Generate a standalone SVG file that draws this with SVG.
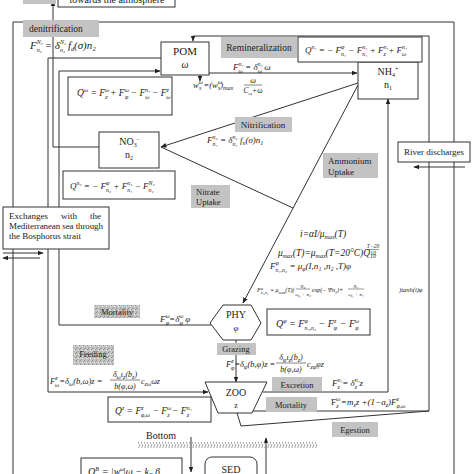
<svg xmlns="http://www.w3.org/2000/svg" width="474" height="474" viewBox="0 0 474 474">
<style>
.ln{fill:none;stroke:#333;stroke-width:1}
.bx{fill:#fff;stroke:#333;stroke-width:1}
.lb{fill:#c3c3c3}
.tx{fill:url(#tex)}
.t{font-family:"Liberation Serif",serif;fill:#222}
.eq{font-family:"Liberation Serif",serif;font-style:italic;fill:#222}
.s{font-size:6px}
.m{text-anchor:middle}
</style>
<defs>
<marker id="ah" viewBox="0 0 10 10" refX="9" refY="5" markerWidth="6" markerHeight="6" orient="auto"><path d="M0,1 L10,5 L0,9 z" fill="#222"/></marker>
<pattern id="tex" width="4" height="4" patternUnits="userSpaceOnUse"><rect width="4" height="4" fill="#c4c4c4"/><rect x="0" y="0" width="1" height="1" fill="#8a8a8a"/><rect x="2" y="2" width="1" height="1" fill="#e8e8e8"/><rect x="3" y="1" width="1" height="1" fill="#9a9a9a"/><rect x="1" y="3" width="1" height="1" fill="#a8a8a8"/></pattern>
<pattern id="hatch" width="3" height="6" patternUnits="userSpaceOnUse"><path d="M0,6 L2,0" stroke="#8a8a8a" stroke-width="0.8"/></pattern>
</defs>
<rect width="474" height="474" fill="#fff"/>

<g id="connectors">
<path class="ln" d="M13,474 V22 H454 V474"/>
<path class="ln" d="M99,147 H53 V1" marker-end="url(#ah)"/>
<path class="ln" d="M161,58 H48 V392 H208" marker-end="url(#ah)"/>
<path class="ln" d="M211,325 H59 V71 H160" marker-end="url(#ah)"/>
<path class="ln" d="M209,73 H357" marker-end="url(#ah)"/>
<path class="ln" d="M200,67 V81" stroke-width="1.6" marker-end="url(#ah)"/>
<path class="ln" d="M253,411 H429 V36 H193 V41" marker-end="url(#ah)"/>
<path class="ln" d="M237,413 L241,426 L429,411"/>
<path class="ln" d="M263,392 H388 V99" marker-end="url(#ah)"/>
<path class="ln" d="M358,83 L161,147" marker-end="url(#ah)"/>
<path class="ln" d="M358,85 L243,303" marker-end="url(#ah)"/>
<path class="ln" d="M161,147 L293,208"/>
<path class="ln" d="M236,340 V382" marker-end="url(#ah)"/>
<path class="ln" d="M3,253 H43" marker-end="url(#ah)"/>
<path class="ln" d="M40,258 H3" marker-end="url(#ah)"/>
<path class="ln" d="M465,167 H414" marker-end="url(#ah)"/>
<path class="ln" d="M191,437 V472" marker-end="url(#ah)"/>
<path class="ln" d="M266,474 V438" marker-end="url(#ah)"/>
</g>

<g id="bottom-line">
<rect x="138" y="442" width="180" height="6" fill="url(#hatch)"/>
<text class="t m" x="161" y="439" font-size="10">Bottom</text>
</g>

<g id="atmosphere">
<rect class="bx" x="58" y="-6" width="117" height="13"/>
<text class="t m" x="117" y="3" font-size="10">towards the atmosphere</text>
<rect class="lb" x="23" y="0" width="33" height="4"/>
</g>

<g id="labels">
<rect class="lb" x="23" y="20" width="76" height="17"/>
<text class="t" x="29" y="32" font-size="9.5">denitrification</text>
<rect class="lb" x="221" y="37" width="76" height="21"/>
<text class="t m" x="259" y="51" font-size="9.5">Remineralization</text>
<rect class="lb" x="235" y="117" width="57" height="15"/>
<text class="t m" x="263" y="128" font-size="9">Nitrification</text>
<rect class="lb" x="323" y="153" width="55" height="25"/>
<text class="t" x="328" y="164" font-size="9">Ammonium</text>
<text class="t" x="328" y="175" font-size="9">Uptake</text>
<rect class="lb" x="191" y="185" width="39" height="23"/>
<text class="t" x="196" y="195" font-size="8.5">Nitrate</text>
<text class="t" x="196" y="205" font-size="8.5">Uptake</text>
<rect class="tx" x="94" y="305" width="46" height="13"/>
<text class="t m" x="117" y="315" font-size="8.5">Mortality</text>
<rect class="tx" x="73" y="345" width="41" height="20"/>
<text class="t m" x="93" y="357" font-size="8.5">Feeding</text>
<rect class="lb" x="217" y="343" width="39" height="12"/>
<text class="t m" x="236" y="352" font-size="8.5">Grazing</text>
<rect class="lb" x="272" y="377" width="50" height="14"/>
<text class="t m" x="297" y="388" font-size="8.5">Excretion</text>
<rect class="lb" x="266" y="397" width="51" height="15"/>
<text class="t m" x="291" y="408" font-size="8.5">Mortality</text>
<rect class="lb" x="332" y="422" width="46" height="15"/>
<text class="t m" x="355" y="433" font-size="8.5">Egestion</text>
</g>

<g id="exchanges">
<rect class="bx" x="3" y="207" width="106" height="42"/>
<text class="t" x="9" y="219" font-size="9">Exchanges</text>
<text class="t" x="61" y="219" font-size="9">with</text>
<text class="t" x="90" y="219" font-size="9">the</text>
<text class="t" x="9" y="229" font-size="9" textLength="94" lengthAdjust="spacing">Mediterranean sea through</text>
<text class="t" x="9" y="239" font-size="9">the Bosphorus strait</text>
</g>

<g id="river">
<rect class="bx" x="398" y="142" width="72" height="20"/>
<text class="t m" x="434" y="155" font-size="9">River discharges</text>
</g>

<g id="POM">
<rect class="bx" x="161" y="42" width="48" height="33"/>
<text class="t m" x="185" y="55" font-size="11">POM</text>
<text class="eq m" x="185" y="68" font-size="10">ω</text>
</g>

<g id="NH4">
<rect class="bx" x="358" y="62" width="60" height="37"/>
<text class="t m" x="388" y="75" font-size="10">NH<tspan class="s" dy="2">4</tspan><tspan class="s" dy="-6">+</tspan></text>
<text class="t m" x="388" y="88" font-size="10">n<tspan class="s" dy="2">1</tspan></text>
</g>

<g id="NO3">
<rect class="bx" x="99" y="132" width="60" height="36"/>
<text class="t m" x="129" y="145" font-size="10">NO<tspan class="s" dy="2">3</tspan><tspan class="s" dy="-6">-</tspan></text>
<text class="t m" x="129" y="158" font-size="10">n<tspan class="s" dy="2">2</tspan></text>
</g>

<g id="PHY">
<polygon class="bx" points="210,323 223,305 251,305 261,323 251,340 223,340"/>
<text class="t m" x="236" y="318" font-size="10">PHY</text>
<text class="eq m" x="236" y="331" font-size="9">φ</text>
</g>

<g id="ZOO">
<polygon class="bx" points="205,382 267,382 252,413 218,413"/>
<text class="t m" x="236" y="396" font-size="10">ZOO</text>
<text class="t m" x="236" y="408" font-size="8">z</text>
</g>

<g id="SED">
<rect class="bx" x="205" y="457" width="52" height="30" rx="7"/>
<text class="t m" x="231" y="473" font-size="10">SED</text>
</g>

<g id="equation-boxes">
<rect class="bx" x="68" y="77" width="104" height="38"/>
<rect class="bx" x="298" y="37" width="124" height="25"/>
<rect class="bx" x="63" y="171" width="112" height="28"/>
<rect class="bx" x="267" y="309" width="103" height="26"/>
<rect class="bx" x="108" y="397" width="103" height="25"/>
<rect class="bx" x="81" y="458" width="101" height="30"/>
</g>

<g id="equations">
<text class="eq" x="30" y="49" font-size="11">F<tspan class="s" dy="-5">N₂</tspan><tspan class="s" dx="-6" dy="8">n₂</tspan><tspan dy="-3"> = δ</tspan><tspan class="s" dy="-5">N₂</tspan><tspan class="s" dx="-6" dy="8">n₂</tspan><tspan dy="-3"> f</tspan><tspan class="s" dy="2">d</tspan><tspan dy="-2">(σ)n₂</tspan></text>

<text class="eq" x="77" y="96" font-size="9.5">Q<tspan class="s" dy="-4">ω</tspan><tspan dy="4"> = F</tspan><tspan class="s" dy="-4">ω</tspan><tspan class="s" dx="-4" dy="6.5">z</tspan><tspan dy="-2.5"> + F</tspan><tspan class="s" dy="-4">ω</tspan><tspan class="s" dx="-4" dy="6.5">φ</tspan><tspan dy="-2.5"> − F</tspan><tspan class="s" dy="-4">n₁</tspan><tspan class="s" dx="-5" dy="6.5">ω</tspan><tspan dy="-2.5"> − F</tspan><tspan class="s" dy="-4">z</tspan><tspan class="s" dx="-2.5" dy="6.5">ω</tspan></text>

<text class="eq" x="233" y="70" font-size="9">F<tspan class="s" dy="-4">n₁</tspan><tspan class="s" dx="-5" dy="6.5">ω</tspan><tspan dy="-2.5"> = δ</tspan><tspan class="s" dy="-4">n₁</tspan><tspan class="s" dx="-5" dy="6.5">ω</tspan><tspan dy="-2.5"> ω</tspan></text>

<text class="eq" x="193" y="88" font-size="8.5">w<tspan class="s" dy="-4">ω</tspan><tspan class="s" dx="-4" dy="6">s</tspan><tspan dy="-2"> =(w</tspan><tspan class="s" dy="-4">ω</tspan><tspan class="s" dx="-4" dy="6">s</tspan><tspan dy="-2">)</tspan><tspan class="s" dy="2">max</tspan></text>
<text class="eq m" x="253" y="83" font-size="8">ω</text>
<line x1="244" y1="85" x2="262" y2="85" stroke="#333" stroke-width="0.6"/>
<text class="eq m" x="253" y="93" font-size="7.5">C<tspan font-size="5" dy="1.5">ω</tspan><tspan dy="-1.5">+ω</tspan></text>

<text class="eq" x="305" y="53" font-size="9">Q<tspan class="s" dy="-4">n₁</tspan><tspan dy="4"> = − F</tspan><tspan class="s" dy="-4">φ</tspan><tspan class="s" dx="-3.3" dy="6.5">n₁</tspan><tspan dy="-2.5"> − F</tspan><tspan class="s" dy="-4">n₁</tspan><tspan class="s" dx="-5" dy="6.5">n₁</tspan><tspan dy="-2.5"> + F</tspan><tspan class="s" dy="-4">n₁</tspan><tspan class="s" dx="-5" dy="6.5">z</tspan><tspan dy="-2.5">  + F</tspan><tspan class="s" dy="-4">n₁</tspan><tspan class="s" dx="-5" dy="6.5">ω</tspan></text>

<text class="eq" x="70" y="189" font-size="9">Q<tspan class="s" dy="-4">n₂</tspan><tspan dy="4"> = − F</tspan><tspan class="s" dy="-4">φ</tspan><tspan class="s" dx="-3.3" dy="6.5">n₂</tspan><tspan dy="-2.5"> + F</tspan><tspan class="s" dy="-4">n₂</tspan><tspan class="s" dx="-5" dy="6.5">n₁</tspan><tspan dy="-2.5"> − F</tspan><tspan class="s" dy="-4">N₂</tspan><tspan class="s" dx="-6" dy="6.5">n₂</tspan></text>

<text class="eq" x="207" y="143" font-size="9">F<tspan class="s" dy="-4">n₂</tspan><tspan class="s" dx="-5" dy="6.5">n₁</tspan><tspan dy="-2.5"> = δ</tspan><tspan class="s" dy="-4">n₂</tspan><tspan class="s" dx="-5" dy="6.5">n₁</tspan><tspan dy="-2.5"> f</tspan><tspan class="s" dy="2">n</tspan><tspan dy="-2">(σ)n</tspan><tspan class="s" dy="2">1</tspan></text>

<text class="eq" x="300" y="237" font-size="9.5">i=αI/μ<tspan class="s" dy="2">max</tspan><tspan dy="-2">(T)</tspan></text>
<text class="eq" x="278" y="256" font-size="9.5">μ<tspan class="s" dy="2">max</tspan><tspan dy="-2">(T)=μ</tspan><tspan class="s" dy="2">max</tspan><tspan dy="-2">(T=20°C)Q</tspan><tspan class="s" dy="2">10</tspan></text>
<text class="eq m" x="373" y="248" font-size="5.5">T−20</text>
<line x1="367" y1="249.5" x2="379" y2="249.5" stroke="#333" stroke-width="0.5"/>
<text class="eq m" x="373" y="254.5" font-size="5.5">10</text>

<text class="eq" x="270" y="269" font-size="9">F<tspan class="s" dy="-4">φ</tspan><tspan class="s" dx="-3.3" dy="6.5">n₁,n₂</tspan><tspan dy="-2.5"> = μ</tspan><tspan class="s" dy="2">φ</tspan><tspan dy="-2">(I,n₁ ,n₂ ,T)φ</tspan></text>

<text class="eq" x="257" y="292" font-size="6">F<tspan font-size="4" dy="-2.5">φ</tspan><tspan font-size="4" dx="-2.2" dy="4.5">n₁,n₂</tspan><tspan dy="-2"> = μ</tspan><tspan font-size="4" dy="1.5">max</tspan><tspan dy="-1.5">(T)(</tspan></text>
<text class="eq m" x="303" y="287.5" font-size="5.5">n₂</text>
<line x1="296" y1="289" x2="310" y2="289" stroke="#333" stroke-width="0.5"/>
<text class="eq m" x="303" y="295.5" font-size="5">c<tspan font-size="3.5" dy="1">n₂</tspan><tspan dy="-1"> + n₂</tspan></text>
<text class="eq" x="312" y="292" font-size="6">exp(− Ψn<tspan font-size="4" dy="1.5">1</tspan><tspan dy="-1.5">)+</tspan></text>
<text class="eq m" x="356" y="287.5" font-size="5.5">n₁</text>
<line x1="348" y1="289" x2="364" y2="289" stroke="#333" stroke-width="0.5"/>
<text class="eq m" x="356" y="295.5" font-size="5">c<tspan font-size="3.5" dy="1">n₁</tspan><tspan dy="-1"> + n₁</tspan></text>
<text class="eq" x="399" y="292" font-size="6.5">)tanh(i)φ</text>

<text class="eq" x="276" y="327" font-size="10">Q<tspan class="s" dy="-4">φ</tspan><tspan dy="4"> = F</tspan><tspan class="s" dy="-4">φ</tspan><tspan class="s" dx="-3.3" dy="6.5">n₁,n₂</tspan><tspan dy="-2.5"> − F</tspan><tspan class="s" dy="-4">z</tspan><tspan class="s" dx="-2.5" dy="6.5">φ</tspan><tspan dy="-2.5"> − F</tspan><tspan class="s" dy="-4">ω</tspan><tspan class="s" dx="-4" dy="6.5">φ</tspan></text>

<text class="eq" x="160" y="322" font-size="9">F<tspan class="s" dy="-4">ω</tspan><tspan class="s" dx="-4" dy="6.5">φ</tspan><tspan dy="-2.5">=δ</tspan><tspan class="s" dy="-4">ω</tspan><tspan class="s" dx="-4" dy="6.5">φ</tspan><tspan dy="-2.5"> φ</tspan></text>

<text class="eq" x="226" y="367" font-size="8.5">F<tspan class="s" dy="-4">z</tspan><tspan class="s" dx="-2.5" dy="6.5">φ</tspan><tspan dy="-2.5">=δ</tspan><tspan class="s" dy="2">φ</tspan><tspan dy="-2">(b,φ)z =</tspan></text>
<text class="eq m" x="291" y="360" font-size="8">δ<tspan class="s" dy="2">φ</tspan><tspan dy="-2">ι</tspan><tspan class="s" dy="2">z</tspan><tspan dy="-2">(b</tspan><tspan class="s" dy="2">z</tspan><tspan dy="-2">)</tspan></text>
<line x1="276" y1="363" x2="306" y2="363" stroke="#333" stroke-width="0.6"/>
<text class="eq m" x="291" y="372" font-size="8">b(φ,ω)</text>
<text class="eq" x="307" y="367" font-size="8">c<tspan class="s" dy="2">zφ</tspan><tspan dy="-2">φz</tspan></text>

<text class="eq" x="50" y="384" font-size="8.5">F<tspan class="s" dy="-4">z</tspan><tspan class="s" dx="-2.5" dy="6.5">ω</tspan><tspan dy="-2.5">=δ</tspan><tspan class="s" dy="2">ω</tspan><tspan dy="-2">(b,ω)z =</tspan></text>
<text class="eq m" x="125" y="377" font-size="8">δ<tspan class="s" dy="2">ω</tspan><tspan dy="-2">ι</tspan><tspan class="s" dy="2">z</tspan><tspan dy="-2">(b</tspan><tspan class="s" dy="2">z</tspan><tspan dy="-2">)</tspan></text>
<line x1="110" y1="380" x2="140" y2="380" stroke="#333" stroke-width="0.6"/>
<text class="eq m" x="125" y="389" font-size="8">b(φ,ω)</text>
<text class="eq" x="141" y="384" font-size="8">c<tspan class="s" dy="2">zω</tspan><tspan dy="-2">ωz</tspan></text>

<text class="eq" x="115" y="414" font-size="9.5">Q<tspan class="s" dy="-4">z</tspan><tspan dy="4"> = F</tspan><tspan class="s" dy="-4">z</tspan><tspan class="s" dx="-2.5" dy="6.5">φ,ω</tspan><tspan dy="-2.5"> − F</tspan><tspan class="s" dy="-4">ω</tspan><tspan class="s" dx="-4" dy="6.5">z</tspan><tspan dy="-2.5"> − F</tspan><tspan class="s" dy="-4">n₁</tspan><tspan class="s" dx="-5" dy="6.5">z</tspan></text>

<text class="eq" x="332" y="386" font-size="9">F<tspan class="s" dy="-4">n₁</tspan><tspan class="s" dx="-5" dy="6.5">z</tspan><tspan dy="-2.5">  = δ</tspan><tspan class="s" dy="-4">n₁</tspan><tspan class="s" dx="-5" dy="6.5">z</tspan><tspan dy="-2.5">  z</tspan></text>

<text class="eq" x="331" y="405" font-size="9"><tspan font-style="normal">F</tspan><tspan class="s" dy="-4">ω</tspan><tspan class="s" dx="-4" dy="6.5">z</tspan><tspan dy="-2.5"> =m</tspan><tspan class="s" dy="2">z</tspan><tspan dy="-2">z +(1−a</tspan><tspan class="s" dy="2">z</tspan><tspan dy="-2">)F</tspan><tspan class="s" dy="-4">z</tspan><tspan class="s" dx="-2.5" dy="6.5">φ,ω</tspan></text>

<text class="eq" x="88" y="475" font-size="10">Q<tspan class="s" dy="-4">B</tspan><tspan class="s" dx="-4" dy="6.5">ω</tspan><tspan dy="-2.5"> = |w</tspan><tspan class="s" dy="-4">ω</tspan><tspan class="s" dx="-4" dy="6.5">s</tspan><tspan dy="-2.5">|ω − k</tspan><tspan class="s" dy="2">B</tspan><tspan dy="-2">  β</tspan></text>
</g>
</svg>
